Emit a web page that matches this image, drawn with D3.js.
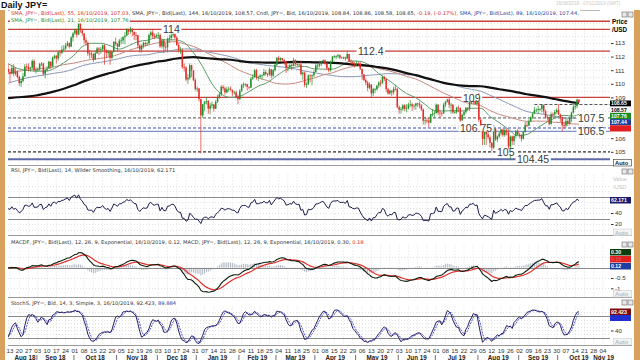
<!DOCTYPE html>
<html><head><meta charset="utf-8">
<script src="https://cdn.jsdelivr.net/npm/d3@7"></script>
<style>
body{margin:0;background:#fff;}
svg{display:block;font-family:"Liberation Sans",Arial,sans-serif;}
</style></head><body>
<svg id="c" width="640" height="360"></svg>
<script>
// ---------------- DATA ----------------
const startDate = "2018-08-10";
const axisEnd = "2019-11-08";
const firstOpen = 111.09;
const closes = [110.87,
110.74,111.17,110.73,110.89,110.50, 110.05,110.21,110.55,111.27,111.25, 111.09,111.19,111.68,111.03,111.03,
111.07,111.46,111.49,110.73,111.02, 111.12,111.63,111.28,111.94,112.06, 111.86,112.31,112.26,112.51,112.58,
112.81,112.98,112.73,113.41,113.70, 113.93,113.61,114.48,113.93,113.71, 113.21,113.02,112.24,112.16,112.21,
111.77,112.25,112.60,112.51,112.55, 112.83,112.44,112.26,112.37,111.91, 112.38,113.08,112.93,112.73,113.17,
113.19,113.43,113.54,113.98,113.84, 114.01,113.81,113.59,113.57,112.82, 112.52,112.79,113.00,112.92,112.97,
113.58,113.78,113.52,113.44,113.56, 113.59,112.75,113.20,112.72,112.68, 113.31,113.37,113.56,113.65,113.40,
112.85,112.49,112.50,111.23,111.19, 110.32,110.44,111.37,110.97,110.27, 109.61,109.65,108.88,107.67,108.50,
108.70,108.73,108.17,108.40,108.48, 108.16,108.68,108.97,109.24,109.78, 109.67,109.37,109.59,109.64,109.54,
109.36,109.37,109.03,108.88,109.49, 109.90,109.95,109.97,109.78,109.72, 110.38,110.48,111.00,110.46,110.48,
110.61,110.62,110.86,110.72,110.69, 111.06,110.60,111.00,111.40,111.91, 111.76,111.89,111.76,111.62,111.16,
111.22,111.37,111.31,111.73,111.46, 111.40,111.42,110.71,110.82,109.92, 109.98,110.61,110.55,110.63,110.86,
111.35,111.35,111.49,111.64,111.73, 111.47,111.15,110.99,111.62,112.00, 112.02,112.03,112.10,111.92,111.93,
111.94,111.86,112.19,111.62,111.59, 111.45,111.42,111.50,111.48,111.10, 110.70,110.27,110.09,109.71,109.95,
109.30,109.60,109.60,109.87,110.08, 110.05,110.50,110.35,109.60,109.29, 109.50,109.37,109.63,109.62,108.28,
108.09,108.15,108.42,108.16,108.19, 108.46,108.49,108.35,108.39,108.56, 108.53,108.42,108.11,107.29,107.31,
107.30,107.15,107.78,107.78,107.85, 108.46,107.88,107.87,107.82,108.47, 108.70,108.84,108.46,108.46,107.90,
107.91,108.25,108.23,107.30,107.72, 107.91,108.23,108.16,108.68,108.67, 108.80,108.52,108.64,107.35,106.59,
105.95,106.47,106.29,106.07,105.66, 105.31,106.72,105.91,106.12,106.35, 106.64,106.23,106.59,106.42,105.39,
106.12,105.78,106.17,106.52,106.27, 106.20,105.96,106.46,106.96,106.92, 107.24,107.54,107.80,108.06,108.09,
108.13,108.15,108.43,107.98,107.55, 107.54,107.04,107.77,107.76,107.92, 108.08,107.75,107.53,106.95,106.93,
107.26,107.08,107.47,107.89,108.28, 108.36,108.84,108.65];
const highs = [111.46,
111.10,111.40,111.45,111.15,111.00, 110.60,110.40,110.80,111.45,111.48, 111.50,111.25,111.80,111.80,111.20,
111.20,111.55,111.60,111.55,111.10, 111.30,111.70,111.60,112.00,112.15, 112.10,112.40,112.50,112.80,112.85,
113.00,113.15,113.05,113.50,113.80, 114.05,114.00,114.55,114.50,114.05, 113.70,113.40,113.10,112.50,112.40,
112.20,112.40,112.70,112.70,112.70, 112.90,112.90,112.55,112.50,112.45, 112.40,113.15,113.40,113.00,113.30,
113.40,113.50,113.80,114.08,114.00, 114.20,114.10,113.85,113.80,113.60, 112.90,112.90,113.10,113.10,113.10,
113.70,113.90,114.00,113.70,113.70, 113.80,113.70,113.30,113.30,113.00, 113.40,113.60,113.70,113.70,113.70,
113.50,113.00,112.70,112.60,111.50, 111.30,110.70,111.50,111.40,111.00, 110.40,109.80,109.70,108.90,108.50,
108.70,109.00,108.80,108.60,108.70, 108.50,108.80,109.20,109.40,109.90, 109.90,109.80,109.75,109.80,109.80,
109.60,109.50,109.50,109.20,109.60, 110.00,110.10,110.05,110.00,109.80, 110.50,110.70,111.10,111.10,110.60,
110.70,110.70,111.10,111.00,110.80, 111.20,111.10,111.10,111.50,111.95, 112.05,111.95,111.90,111.80,111.60,
111.40,111.50,111.50,111.90,111.80, 111.60,111.50,111.70,110.90,110.90, 110.10,110.70,110.70,110.70,111.00,
111.50,111.50,111.70,111.70,111.80, 111.80,111.60,111.20,111.70,112.05, 112.10,112.10,112.20,112.15,112.00,
112.00,112.00,112.40,112.20,111.80, 111.70,111.60,111.70,111.60,111.60, 111.10,110.70,110.40,110.20,110.10,
109.90,109.70,109.70,109.90,110.20, 110.30,110.60,110.60,110.30,109.70, 109.60,109.50,109.80,109.90,109.70,
108.40,108.30,108.50,108.50,108.50, 108.60,108.80,108.60,108.50,108.60, 108.60,108.70,108.50,108.20,107.60,
107.50,107.50,107.80,108.15,108.00, 108.55,108.50,108.10,107.90,108.60, 108.70,108.90,108.95,108.60,108.50,
108.00,108.30,108.40,108.25,107.80, 108.00,108.30,108.30,108.70,108.80, 108.80,108.90,109.00,109.32,107.50,
106.60,106.80,106.70,106.50,106.20, 105.70,106.98,106.70,106.20,106.50, 106.70,106.70,106.70,106.70,106.60,
106.20,106.20,106.20,106.60,106.70, 106.40,106.30,106.50,107.20,107.20, 107.40,107.60,107.90,108.30,108.20,
108.40,108.20,108.50,108.48,108.10, 107.70,107.60,107.90,107.90,108.10, 108.20,108.50,107.80,107.60,107.20,
107.50,107.40,107.60,107.95,108.60, 108.50,108.90,108.86];
const lows = [110.70,
110.10,110.70,110.55,110.60,110.40, 109.85,109.77,110.10,110.50,111.00, 110.90,110.90,111.10,110.90,110.75,
110.90,110.95,111.30,110.60,110.40, 110.90,111.10,111.10,111.20,111.80, 111.50,111.70,112.00,112.20,112.40,
112.50,112.75,112.60,112.70,113.10, 113.60,113.40,113.60,113.75,113.50, 112.95,112.80,112.05,111.85,111.90,
111.60,111.80,112.20,112.10,112.20, 112.40,111.40,111.90,112.00,111.40, 111.80,112.30,112.80,112.40,112.70,
112.90,112.95,112.90,113.50,113.60, 113.70,113.50,113.20,113.20,112.60, 112.30,112.30,112.60,112.75,112.80,
112.90,113.40,113.30,113.30,113.40, 113.35,112.65,112.60,112.25,112.40, 112.30,113.00,113.20,113.40,113.30,
112.80,112.30,112.20,111.10,110.90, 110.20,110.00,110.30,110.50,110.20, 109.50,109.40,108.70,104.87,107.50,
108.00,108.50,107.80,107.75,108.20, 107.95,108.20,108.60,108.90,109.10, 109.50,109.20,109.30,109.40,109.50,
109.10,109.20,109.00,108.50,108.80, 109.40,109.70,109.80,109.50,109.60, 109.70,110.30,110.50,110.30,110.20,
110.45,110.30,110.60,110.60,110.50, 110.60,110.40,110.50,110.90,111.30, 111.60,111.65,111.60,111.40,110.80,
110.90,111.10,111.00,111.30,111.30, 111.30,111.30,110.60,110.30,109.75, 109.70,109.90,110.10,109.90,110.50,
110.90,111.10,111.20,111.30,111.50, 111.40,111.00,110.85,110.90,111.55, 111.90,111.80,111.90,111.80,111.85,
111.80,111.70,111.80,111.60,111.40, 111.40,111.20,111.30,111.30,111.00, 110.30,110.20,109.90,109.45,109.60,
109.00,109.10,109.30,109.50,109.70, 109.80,110.00,110.20,109.40,109.20, 109.20,109.10,109.20,109.50,108.20,
107.80,107.80,108.00,108.00,107.90, 108.10,108.30,108.00,108.10,108.10, 108.30,108.20,108.00,107.00,107.00,
107.10,106.80,107.10,107.60,107.50, 107.80,107.70,107.50,107.60,107.80, 108.30,108.60,108.20,107.80,107.80,
107.80,107.80,107.90,107.20,107.30, 107.60,107.80,108.00,108.00,108.50, 108.50,108.50,108.40,107.20,106.50,
105.50,105.50,105.50,105.90,105.30, 105.05,105.20,105.80,105.70,106.00, 106.20,106.10,106.10,106.20,105.20,
104.45,105.50,105.50,106.00,106.20, 106.00,105.75,105.90,106.40,106.80, 106.90,107.20,107.40,107.80,107.90,
107.80,108.00,107.90,107.80,107.50, 107.30,106.95,107.00,107.50,107.60, 107.80,107.70,107.20,106.48,106.70,
106.80,106.90,107.00,107.20,107.80, 108.10,108.20,108.58];

// moving averages read at the end of each week (first bar, every Friday, last bar)
const sma21 = [111.48,111.13,111.00,110.93,110.93,111.13,111.55,112.03,112.73,112.98,112.98,112.80,112.55,112.80,113.10,113.20,113.38,113.23,113.23,113.03,112.28,111.25,110.00,109.25,109.00,109.08,109.43,109.83,110.10,110.60,111.03,111.23,111.28,111.10,111.08,111.08,111.35,111.68,111.65,111.35,110.75,110.30,109.78,109.28,108.98,108.48,108.03,108.00,108.03,108.00,108.20,108.20,107.60,107.15,106.65,106.18,106.28,106.70,107.13,107.48,107.68,107.63,107.76];
const sma55 = [110.77,110.92,110.99,111.07,111.15,111.25,111.41,111.51,111.66,111.80,111.87,111.99,112.18,112.45,112.66,112.82,113.00,113.06,113.10,112.93,112.75,112.44,112.08,111.73,111.36,110.97,110.71,110.44,110.23,110.02,109.98,110.05,110.24,110.42,110.65,110.81,111.06,111.24,111.31,111.26,111.12,110.97,110.78,110.54,110.35,110.03,109.67,109.32,109.02,108.70,108.53,108.39,108.04,107.75,107.57,107.37,107.24,107.26,107.25,107.17,107.12,107.05,107.03];
const sma89 = [110.05,110.25,110.43,110.56,110.66,110.78,110.88,111.07,111.33,111.48,111.59,111.71,111.85,112.02,112.10,112.13,112.27,112.36,112.49,112.56,112.56,112.43,112.28,112.14,111.99,111.77,111.55,111.44,111.35,111.28,111.21,111.09,110.94,110.82,110.70,110.61,110.53,110.52,110.56,110.63,110.69,110.75,110.73,110.68,110.59,110.45,110.27,110.10,109.93,109.73,109.59,109.46,109.16,108.86,108.54,108.23,107.96,107.83,107.74,107.61,107.49,107.46,107.44];
const sma144 = [108.95,109.01,109.06,109.14,109.28,109.44,109.64,109.87,110.14,110.38,110.60,110.79,110.98,111.20,111.36,111.48,111.62,111.71,111.84,111.93,111.96,111.91,111.85,111.80,111.77,111.67,111.59,111.58,111.55,111.55,111.58,111.61,111.60,111.58,111.57,111.54,111.50,111.43,111.39,111.32,111.22,111.12,110.97,110.79,110.64,110.44,110.26,110.07,109.95,109.86,109.83,109.82,109.72,109.60,109.50,109.37,109.23,109.13,109.02,108.88,108.74,108.63,108.57];

// horizontal support / resistance levels and their labels
const levelValues = [114.6, 114, 112.4, 109, 107.5, 106.75, 106.5, 105, 104.45];
const levelLabels = ["", "114", "112.4", "109", "107.5", "106.75", "106.5", "105", "104.45"];
const shortLevel = {value: 108.48, from: "2019-09-12"};

const priceTicks = [105, 106, 109, 110, 111, 112, 113];
const rsiTicks = [20, 40];
const macdTicks = [-1, -0.5];
const stochTicks = [40];

const legendMain1 = [
  ["SMA, JPY=, Bid(Last), 55, 16/10/2019, 107.03, ", "red"],
  ["SMA, JPY=, Bid(Last), 144, 16/10/2019, 108.57, Cndl, JPY=, Bid, 16/10/2019, 108.84, 108.86, 108.58, 108.65, ", "black"],
  ["-0.19, (-0.17%), ", "red"],
  ["SMA, JPY=, Bid(Last), 89, 16/10/2019, 107.44,", "blue"]];
const legendMain2 = "SMA, JPY=, Bid(Last), 21, 16/10/2019, 107.76";
const legendRSI = "RSI, JPY=, Bid(Last), 14, Wilder Smoothing, 16/10/2019, 62.171";
const legendMACD = [["MACDF, JPY=, Bid(Last), 12, 26, 9, Exponential, 16/10/2019, 0.12, MACD, JPY=, Bid(Last), 12, 26, 9, Exponential, 16/10/2019, 0.30, ","black"],["0.18","red"]];
const legendStoch = [["StochS, JPY=, Bid, 14, 3, Simple, 3, 16/10/2019, 92.423, ","black"],["89.884","blue"]];
const mainBoxes = [["108.65","#000","#fff"],["108.57","#fff","#000"],["107.76","#1f8a1f","#fff"],["107.44","#1f3f9f","#fff"],["107.03","#e02020","#e02020"]];
const macdBoxes = [["0.30","#0d3d0d","#fff"],["0.18","#e02020","#e05050"],["0.12","#1f3f9f","#fff"]];

// ---------------- SETUP ----------------
const svg = d3.select("#c");
const parse = d3.timeParse("%Y-%m-%d");
function weekdays(from, n, until){
  const out=[]; const d=new Date(from);
  while(until ? d<=until : out.length<n){ const w=d.getDay(); if(w!==0&&w!==6) out.push(new Date(d)); d.setDate(d.getDate()+1); }
  return out;
}
const dates = weekdays(parse(startDate), closes.length);
const axisDates = weekdays(parse(startDate), 0, parse(axisEnd));
const N = closes.length;

const PL = 8, PR = 610;
const x = d3.scaleLinear().domain([0, 321]).range([8.15, 603]);
const yP = d3.scaleLinear().domain([105, 113]).range([151.8, 43]);
const yR = d3.scaleLinear().domain([0, 100]).range([235, 180]);
const yM = d3.scaleLinear().domain([-1, 0]).range([288.3, 267.7]);
const yS = d3.scaleLinear().domain([20, 80]).range([337.7, 316]);

const panels = [
  {id:"pm", top:10.5, bottom:165.5},
  {id:"pr", top:166.5, bottom:235.5},
  {id:"pc", top:236.5, bottom:297.5},
  {id:"ps", top:298.5, bottom:345.5}
];
const defs = svg.append("defs");
panels.forEach(p=>{
  defs.append("clipPath").attr("id","clip-"+p.id).append("rect")
    .attr("x",PL).attr("y",p.top).attr("width",PR-PL).attr("height",p.bottom-p.top);
});

svg.append("rect").attr("width",640).attr("height",360).attr("fill","#fff");
svg.append("rect").attr("x",0).attr("y",10).attr("width",5).attr("height",350).attr("fill","#d9a15e");
svg.append("rect").attr("x",634).attr("y",10).attr("width",6).attr("height",350).attr("fill","#d9a15e");

// vertical weekly grid
const mondays = axisDates.map((d,i)=>({d,i})).filter(o=>o.d.getDay()===1);
panels.forEach(p=>{
  svg.append("g").selectAll("line").data(mondays).join("line")
    .attr("x1",o=>x(o.i)).attr("x2",o=>x(o.i)).attr("y1",p.top+8).attr("y2",p.bottom)
    .attr("stroke","#cfcfcf").attr("stroke-width",0.6).attr("stroke-dasharray","1,2");
});
function hgrid(vals, scale){
  svg.append("g").selectAll("line").data(vals).join("line")
    .attr("x1",PL).attr("x2",PR).attr("y1",d=>Math.round(scale(d))+0.5).attr("y2",d=>Math.round(scale(d))+0.5)
    .attr("stroke","#cfcfcf").attr("stroke-width",0.6).attr("stroke-dasharray","1,2");
}
hgrid(d3.range(105, 115, 0.5), yP);
hgrid([10,20,40,50,60,80,90], yR);
hgrid([-1,-0.5,0.5], yM);
hgrid([30,40,50,60,70,90], yS);

panels.forEach(p=>{
  svg.append("line").attr("x1",PL).attr("x2",632).attr("y1",p.bottom).attr("y2",p.bottom).attr("stroke","#9a9a9a").attr("stroke-width",1);
});
svg.append("line").attr("x1",PL).attr("x2",600).attr("y1",10.5).attr("y2",10.5).attr("stroke","#b8b8b8");

// ---------------- MAIN PANEL ----------------
const gm = svg.append("g").attr("clip-path","url(#clip-pm)");
const levelStyle = [
  {c:"#c8403a",w:1.4,d:null},{c:"#c8403a",w:1.4,d:null},{c:"#c8403a",w:1.4,d:null},{c:"#c8403a",w:1.4,d:null},
  {c:"#7a7a7a",w:1.2,d:"3,2"},{c:"#3a4ab8",w:1.2,d:"3,2"},{c:"#8090c8",w:1.1,d:null},{c:"#333",w:1.2,d:"3,2"},{c:"#5c6aa8",w:2,d:null}];
levelValues.forEach((v,i)=>{
  gm.append("line").attr("x1",PL).attr("x2",PR).attr("y1",yP(v)).attr("y2",yP(v))
    .attr("stroke",levelStyle[i].c).attr("stroke-width",levelStyle[i].w).attr("stroke-dasharray",levelStyle[i].d);
});
const shortIdx = dates.findIndex(d=>+d===+parse(shortLevel.from));
gm.append("line").attr("x1",x(shortIdx)).attr("x2",PR).attr("y1",yP(shortLevel.value)).attr("y2",yP(shortLevel.value))
  .attr("stroke","#555").attr("stroke-width",1.1).attr("stroke-dasharray","3,2");

const maIdx = [0]; dates.forEach((d,i)=>{ if(i>0 && d.getDay()===5) maIdx.push(i); }); maIdx.push(N-1);
function maLine(arr, color, width){
  const pts = arr.map((v,k)=>[maIdx[k], v]);
  gm.append("path").datum(pts).attr("fill","none").attr("stroke",color).attr("stroke-width",width)
    .attr("d", d3.line().x(p=>x(p[0])).y(p=>yP(p[1])).curve(d3.curveMonotoneX));
}
maLine(sma89, "#8a9ab8", 1);
maLine(sma55, "#c88a80", 1);
maLine(sma21, "#5f9a6a", 1);
maLine(sma144, "#111", 2.2);

const bars = closes.map((c,j)=>{ const o = j ? closes[j-1] : firstOpen;
  return {j, o, c, h: Math.max(highs[j], o, c), l: Math.min(lows[j], o, c)}; });
const cg = gm.append("g");
cg.selectAll("line").data(bars).join("line")
  .attr("x1",b=>x(b.j)).attr("x2",b=>x(b.j)).attr("y1",b=>yP(b.h)).attr("y2",b=>yP(b.l))
  .attr("stroke",b=>b.c>=b.o?"#22902a":"#e0302a").attr("stroke-width",0.7);
cg.selectAll("rect").data(bars).join("rect")
  .attr("x",b=>x(b.j)-0.75).attr("width",1.5)
  .attr("y",b=>yP(Math.max(b.o,b.c))).attr("height",b=>Math.max(0.8, Math.abs(yP(b.o)-yP(b.c))))
  .attr("fill",b=>b.c>=b.o?"#22902a":"#e0302a");

const labelPos = [null,[163,29],[358,51],[463,98],[578,118.5],[460,128.5],[578,131.5],[497,152],[517,159]];
levelLabels.forEach((t,i)=>{
  if(!t) return;
  const [lx,ly] = labelPos[i];
  const tx = svg.append("text").attr("x",lx).attr("y",ly+3.6).attr("font-size",10.5).attr("fill","#3a3a3a").text(t);
  const bb = tx.node().getBBox();
  svg.insert("rect", () => tx.node()).attr("x",bb.x-1.5).attr("y",ly-3).attr("width",bb.width+3).attr("height",6).attr("fill","#fff");
});

// ---------------- RSI ----------------
const rsiVals = (()=>{ let ag=0.18, al=0.18; const out=[];
  for(let j=0;j<N;j++){ const prev = j?closes[j-1]:firstOpen; const ch=closes[j]-prev;
    ag=(ag*13+Math.max(ch,0))/14; al=(al*13+Math.max(-ch,0))/14; out.push([j, 100-100/(1+ag/al)]); }
  return out; })();
const gr = svg.append("g").attr("clip-path","url(#clip-pr)");
[30,70].forEach(v=>gr.append("line").attr("x1",PL).attr("x2",PR).attr("y1",Math.round(yR(v))+0.5).attr("y2",Math.round(yR(v))+0.5).attr("stroke","#8a8a8a").attr("stroke-width",1));
gr.append("path").datum(rsiVals).attr("fill","none").attr("stroke","#1b1b4d").attr("stroke-width",1)
  .attr("d", d3.line().x(p=>x(p[0])).y(p=>yR(p[1])));

// ---------------- MACD ----------------
function ema(arr, n){ const k=2/(n+1); let e=arr[0]; return arr.map(v=>(e=v*k+e*(1-k))); }
const e12 = ema(closes,12), e26 = ema(closes,26);
const macd = closes.map((c,j)=>e12[j]-e26[j]);
const sig = (()=>{ const k=2/10; let e=0; return macd.map(v=>(e=v*k+e*(1-k))); })();
const gc = svg.append("g").attr("clip-path","url(#clip-pc)");
gc.append("g").selectAll("line").data(macd.map((m,j)=>[j,m-sig[j]])).join("line")
  .attr("x1",p=>x(p[0])).attr("x2",p=>x(p[0])).attr("y1",yM(0)).attr("y2",p=>yM(p[1]))
  .attr("stroke","#9aa4b4").attr("stroke-width",0.8);
gc.append("line").attr("x1",PL).attr("x2",PR).attr("y1",Math.round(yM(0))+0.5).attr("y2",Math.round(yM(0))+0.5).attr("stroke","#8a8a8a");
gc.append("path").datum(sig.map((v,j)=>[j,v])).attr("fill","none").attr("stroke","#e0302a").attr("stroke-width",1.2)
  .attr("d", d3.line().x(p=>x(p[0])).y(p=>yM(p[1])));
gc.append("path").datum(macd.map((v,j)=>[j,v])).attr("fill","none").attr("stroke","#0e1e0e").attr("stroke-width",1.1)
  .attr("d", d3.line().x(p=>x(p[0])).y(p=>yM(p[1])));

// ---------------- STOCHASTICS ----------------
const fastK = closes.map((c,j)=>{ const a=Math.max(0,j-13);
  const hh=d3.max(highs.slice(a,j+1)), ll=d3.min(lows.slice(a,j+1)); return hh>ll?100*(c-ll)/(hh-ll):50; });
function sma(arr,n){ return arr.map((v,j)=>d3.mean(arr.slice(Math.max(0,j-n+1),j+1))); }
const slowK = sma(fastK,3), slowD = sma(slowK,3);
const gs = svg.append("g").attr("clip-path","url(#clip-ps)");
[20,80].forEach(v=>gs.append("line").attr("x1",PL).attr("x2",PR).attr("y1",Math.round(yS(v))+0.5).attr("y2",Math.round(yS(v))+0.5).attr("stroke","#8a8a8a"));
gs.append("path").datum(slowD.map((v,j)=>[j,v])).attr("fill","none").attr("stroke","#4a5ad8").attr("stroke-width",1).attr("stroke-dasharray","2,1")
  .attr("d", d3.line().x(p=>x(p[0])).y(p=>yS(p[1])));
gs.append("path").datum(slowK.map((v,j)=>[j,v])).attr("fill","none").attr("stroke","#2a1d5c").attr("stroke-width",1)
  .attr("d", d3.line().x(p=>x(p[0])).y(p=>yS(p[1])));

// ---------------- AXES ----------------
function rightAxis(scale, ticks, fmt){
  const g = svg.append("g").attr("transform","translate(611,0)")
    .call(d3.axisRight(scale).tickValues(ticks).tickSize(2.5).tickPadding(1.5).tickFormat(fmt));
  g.select(".domain").remove();
  g.selectAll("text").attr("font-size",6.2).attr("fill","#333").attr("font-family","Liberation Sans, Arial");
  g.selectAll("line").attr("stroke","#333");
}
rightAxis(yP, priceTicks, d3.format("d"));
rightAxis(yR, rsiTicks, d3.format("d"));
rightAxis(yM, macdTicks, d=>d===-1?"-1":"-0.5");
rightAxis(yS, stochTicks, d3.format("d"));

function box(y0, t, bg, fg, h){
  svg.append("rect").attr("x",610).attr("y",y0).attr("width",21).attr("height",h).attr("fill",bg).attr("stroke", bg==="#fff"?"#ccc":"none").attr("stroke-width",0.5);
  svg.append("text").attr("x",611).attr("y",y0+h-1.3).attr("font-size",5.2).attr("font-weight","bold").attr("fill",fg).text(t);
}
mainBoxes.forEach((b,i)=>box(100.5+i*6.2, b[0], b[1], b[2], 6.2));
box(197, "62.171", "#1b1b6a", "#fff", 6.5);
macdBoxes.forEach((b,i)=>box(249+i*7, b[0], b[1], b[2], 6.5));
box(308.5, "92.423", "#7a0c0c", "#fff", 6.5);
box(315, "89.884", "#1f2fd0", "#1f2fd0", 6);

svg.append("text").attr("x",612).attr("y",23.5).attr("font-size",6.3).attr("font-weight","bold").text("Price");
svg.append("text").attr("x",612).attr("y",31.5).attr("font-size",6.3).attr("font-weight","bold").text("/USD");
svg.append("text").attr("x",613).attr("y",181).attr("font-size",5.6).attr("fill","#c4c4c4").text("Value");
svg.append("text").attr("x",613).attr("y",189).attr("font-size",5.6).attr("fill","#c4c4c4").text("/USD");
[[159.5,"#333","#fff"],[229,"#ccc","#f4f4f4"],[290.5,"#ccc","#f4f4f4"],[338.5,"#ccc","#f4f4f4"]].forEach(([y0,c,bg])=>{
  svg.append("rect").attr("x",613.5).attr("y",y0).attr("width",18).attr("height",6.5).attr("fill",bg).attr("stroke",c).attr("stroke-width",0.6);
  svg.append("text").attr("x",615).attr("y",y0+5.5).attr("font-size",5.8).attr("font-weight","bold").attr("fill",c==="#333"?"#222":"#bbb").text("Auto");
});
[12,169,242,300].forEach(y0=>{
  [622,628].forEach(x0=>svg.append("rect").attr("x",x0).attr("y",y0).attr("width",5).attr("height",5)
    .attr("fill","#e8e8e8").attr("stroke","#666").attr("stroke-width",0.6));
});

// bottom date axis
const xa = svg.append("g");
xa.selectAll("text").data(mondays).join("text")
  .attr("x",o=>x(o.i)).attr("y",353).attr("text-anchor","middle").attr("font-size",6.2).attr("fill","#333")
  .text(o=>d3.timeFormat("%d")(o.d));
const months = d3.groups(axisDates.map((d,i)=>({d,i})), o=>d3.timeFormat("%Y-%m")(o.d));
months.forEach(([k,arr],mi)=>{
  const a = arr[0].i, b = arr[arr.length-1].i;
  const cx = Math.max(x(a), 14) + (Math.min(x(b), 606) - Math.max(x(a), 14)) / 2;
  if (x(b) < 612) xa.append("text").attr("x",cx).attr("y",360).attr("text-anchor","middle").attr("font-size",6.3).attr("font-weight","bold").attr("fill","#222")
    .text(d3.timeFormat("%b %y")(arr[0].d));
  if (mi>0) xa.append("line").attr("x1",x(a)-0.9).attr("x2",x(a)-0.9).attr("y1",355).attr("y2",360).attr("stroke","#333").attr("stroke-width",0.7);
});

// ---------------- TEXT ----------------
svg.append("text").attr("x",1).attr("y",8).attr("font-size",9).attr("font-weight","bold").attr("fill","#111").text("Daily JPY=");
svg.append("text").attr("x",556).attr("y",5).attr("font-size",4.6).attr("fill","#c8c8c8").text("16/08/2018 - 07/11/2019 (GMT)");
const colorMap = {red:"#d8302a", black:"#333", blue:"#2a3fa0", green:"#2a8a2a"};
function legend(y0, parts){
  const bgt = svg.append("text").attr("x",11).attr("y",y0).attr("font-size",5.2).attr("font-family","DejaVu Sans, sans-serif");
  parts.forEach(([t,c])=>bgt.append("tspan").attr("fill",colorMap[c]).text(t));
  const bb = bgt.node().getBBox();
  svg.insert("rect", ()=>bgt.node()).attr("x",bb.x-1).attr("y",bb.y).attr("width",bb.width+2).attr("height",bb.height).attr("fill","#fff");
}
legend(15, legendMain1);
legend(21.5, [[legendMain2,"green"]]);
legend(172, [[legendRSI,"black"]]);
legend(244, legendMACD);
legend(305, legendStoch);
</script>
</body></html>
